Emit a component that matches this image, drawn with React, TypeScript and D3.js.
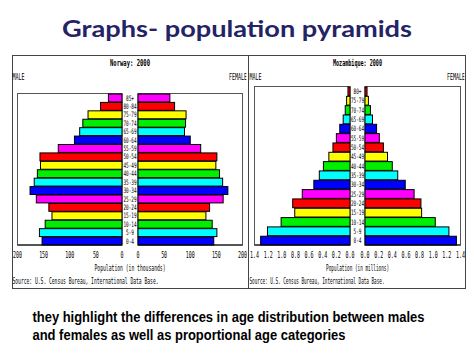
import React from "react";
import * as d3 from "d3";

// Norway 2000, population in thousands, youngest group first
const NORWAY_AGES = ["0-4", "5-9", "10-14", "15-19", "20-24", "25-29", "30-34", "35-39", "40-44", "45-49", "50-54", "55-59", "60-64", "65-69", "70-74", "75-79", "80-84", "85+"];
const NORWAY_MALE = [153, 158, 147, 134, 140, 164, 176, 168, 162, 156, 157, 122, 91, 81, 75, 65, 41, 26];
const NORWAY_FEMALE = [145, 151, 142, 130, 137, 163, 172, 162, 156, 149, 151, 120, 100, 89, 91, 92, 70, 61];
const NORWAY_TICKS = [0, 50, 100, 150, 200];

// Mozambique 2000, population in millions, youngest group first
const MOZ_AGES = ["0-4", "5-9", "10-14", "15-19", "20-24", "25-29", "30-34", "35-39", "40-44", "45-49", "50-54", "55-59", "60-64", "65-69", "70-74", "75-79", "80+"];
const MOZ_MALE = [1.31, 1.21, 1.01, 0.81, 0.84, 0.70, 0.53, 0.45, 0.39, 0.31, 0.25, 0.20, 0.15, 0.10, 0.07, 0.05, 0.03];
const MOZ_FEMALE = [1.34, 1.23, 1.03, 0.83, 0.82, 0.72, 0.59, 0.48, 0.40, 0.33, 0.27, 0.21, 0.17, 0.11, 0.08, 0.05, 0.03];
const MOZ_TICKS = [0, 0.2, 0.4, 0.6, 0.8, 1.0, 1.2, 1.4];

// colour cycle counted from the youngest group
const BAR_COLORS = ["#0000ff", "#00ffff", "#00ee00", "#ffff00", "#ff0000", "#ff00ff"];

const MONO = "'DejaVu Sans Mono', monospace";

type PyramidProps = {
  title: string;
  unitLabel: string;
  ages: string[];
  male: number[];
  female: number[];
  ticks: number[];
  max: number;
  tickFormat: (v: number) => string;
  panelLeft: number;
  panelRight: number;
  maleRange: [number, number]; // [left edge, zero]
  femaleRange: [number, number]; // [zero, right edge]
  top: number;
  bottom: number;
  titleWidth: number;
  unitWidth: number;
  sourceWidth: number;
  clipId: string;
};

function Pyramid(p: PyramidProps) {
  const xMale = d3.scaleLinear().domain([0, p.max]).range([p.maleRange[1], p.maleRange[0]]);
  const xFemale = d3.scaleLinear().domain([0, p.max]).range([p.femaleRange[0], p.femaleRange[1]]);
  const y = d3
    .scaleBand<string>()
    .domain([...p.ages].reverse())
    .range([p.top, p.bottom])
    .paddingInner(0.06);
  const midX = (p.maleRange[1] + p.femaleRange[0]) / 2;
  const centerX = (p.panelLeft + p.panelRight) / 2;
  const frameStroke = "#555";

  return (
    <g fontFamily={MONO} fill="#000">
      <defs>
        <clipPath id={p.clipId}>
          <rect x={p.panelLeft} y={55} width={p.panelRight - p.panelLeft - 1.5} height={234} />
        </clipPath>
      </defs>
      <text x={centerX} y={66} fontSize={8.5} fontWeight="bold" textAnchor="middle" textLength={p.titleWidth} lengthAdjust="spacingAndGlyphs">
        {p.title}
      </text>
      <text x={p.panelLeft + 0.5} y={79.5} fontSize={8} textLength={12} lengthAdjust="spacingAndGlyphs">
        MALE
      </text>
      <g clipPath={`url(#${p.clipId})`}>
        <text x={p.panelRight - 1} y={79.5} fontSize={8} textAnchor="end" textLength={18} lengthAdjust="spacingAndGlyphs">
          FEMALE
        </text>
      </g>

      {/* plot frames */}
      <rect x={p.maleRange[0]} y={p.top - 0.5} width={p.maleRange[1] - p.maleRange[0]} height={p.bottom - p.top + 0.5} fill="none" stroke={frameStroke} strokeWidth={1} />
      <rect x={p.femaleRange[0]} y={p.top - 0.5} width={p.femaleRange[1] - p.femaleRange[0]} height={p.bottom - p.top + 0.5} fill="none" stroke={frameStroke} strokeWidth={1} />

      {p.ages.map((age, i) => {
        const yy = y(age)!;
        const h = y.bandwidth();
        const color = BAR_COLORS[i % BAR_COLORS.length];
        return (
          <g key={age}>
            <rect x={xMale(p.male[i])} y={yy} width={xMale(0) - xMale(p.male[i])} height={h} fill={color} stroke="#000" strokeWidth={1} />
            <rect x={xFemale(0)} y={yy} width={xFemale(p.female[i]) - xFemale(0)} height={h} fill={color} stroke="#000" strokeWidth={1} />
            <text x={midX} y={yy + h / 2 + 2.6} fontSize={7.5} textAnchor="middle" textLength={age.length > 3 ? 13 : 8} lengthAdjust="spacingAndGlyphs">
              {age}
            </text>
          </g>
        );
      })}

      {/* axis lines */}
      <line x1={p.maleRange[0]} x2={p.maleRange[1]} y1={p.bottom} y2={p.bottom} stroke="#000" />
      <line x1={p.femaleRange[0]} x2={p.femaleRange[1]} y1={p.bottom} y2={p.bottom} stroke="#000" />

      {p.ticks.map((t) => (
        <g key={`m${t}`}>
          <text x={xMale(t)} y={257.5} fontSize={8} textAnchor="middle" textLength={p.tickFormat(t).length * 3} lengthAdjust="spacingAndGlyphs">
            {p.tickFormat(t)}
          </text>
          <text x={xFemale(t)} y={257.5} fontSize={8} textAnchor="middle" textLength={p.tickFormat(t).length * 3} lengthAdjust="spacingAndGlyphs">
            {p.tickFormat(t)}
          </text>
        </g>
      ))}

      <text x={midX} y={270.5} fontSize={8} textAnchor="middle" textLength={p.unitWidth} lengthAdjust="spacingAndGlyphs">
        {p.unitLabel}
      </text>
      <text x={p.panelLeft + 0.5} y={283.5} fontSize={8} textLength={p.sourceWidth} lengthAdjust="spacingAndGlyphs">
        Source: U.S. Census Bureau, International Data Base.
      </text>
    </g>
  );
}

export default function App() {
  const W = 474;
  const H = 355;
  return (
    <svg width={W} height={H} style={{ position: "absolute", left: 0, top: 0, background: "#fff" }}>
      <rect x={0} y={0} width={W} height={H} fill="#fff" />
      <text
        x={237}
        y={37}
        textAnchor="middle"
        fontFamily="Lato, 'Open Sans', sans-serif"
        fontWeight="bold"
        fontSize={23}
        fill="#232366"
        textLength={350}
        lengthAdjust="spacingAndGlyphs"
      >
        Graphs- population pyramids
      </text>

      {/* outer frame around both pyramids */}
      <rect x={12.5} y={55.5} width={453} height={233} fill="#fff" stroke="#444" strokeWidth={1} />
      <line x1={248.5} x2={248.5} y1={55.5} y2={288.5} stroke="#444" />

      <Pyramid
        title="Norway: 2000"
        unitLabel="Population (in thousands)"
        ages={NORWAY_AGES}
        male={NORWAY_MALE}
        female={NORWAY_FEMALE}
        ticks={NORWAY_TICKS}
        max={200}
        tickFormat={(v) => d3.format("d")(v)}
        panelLeft={12}
        panelRight={248}
        maleRange={[17.5, 122]}
        femaleRange={[138, 242.5]}
        top={94}
        bottom={245}
        titleWidth={40}
        unitWidth={71}
        sourceWidth={146}
        clipId="clip-norway"
      />
      <Pyramid
        title="Mozambique: 2000"
        unitLabel="Population (in millions)"
        ages={MOZ_AGES}
        male={MOZ_MALE}
        female={MOZ_FEMALE}
        ticks={MOZ_TICKS}
        max={1.4}
        tickFormat={(v) => d3.format(".1f")(v)}
        panelLeft={249}
        panelRight={466}
        maleRange={[254.5, 350]}
        femaleRange={[365, 460.5]}
        top={87}
        bottom={245}
        titleWidth={49}
        unitWidth={63}
        sourceWidth={135}
        clipId="clip-moz"
      />

      <g fontFamily="'Liberation Sans Narrow', 'Liberation Sans', Arial, sans-serif" fontWeight="bold" fontSize={15} fill="#000">
        <text x={32.5} y={322} textLength={392} lengthAdjust="spacingAndGlyphs">
          they highlight the differences in age distribution between males
        </text>
        <text x={32.5} y={339.5} textLength={313} lengthAdjust="spacingAndGlyphs">
          and females as well as proportional age categories
        </text>
      </g>
    </svg>
  );
}
